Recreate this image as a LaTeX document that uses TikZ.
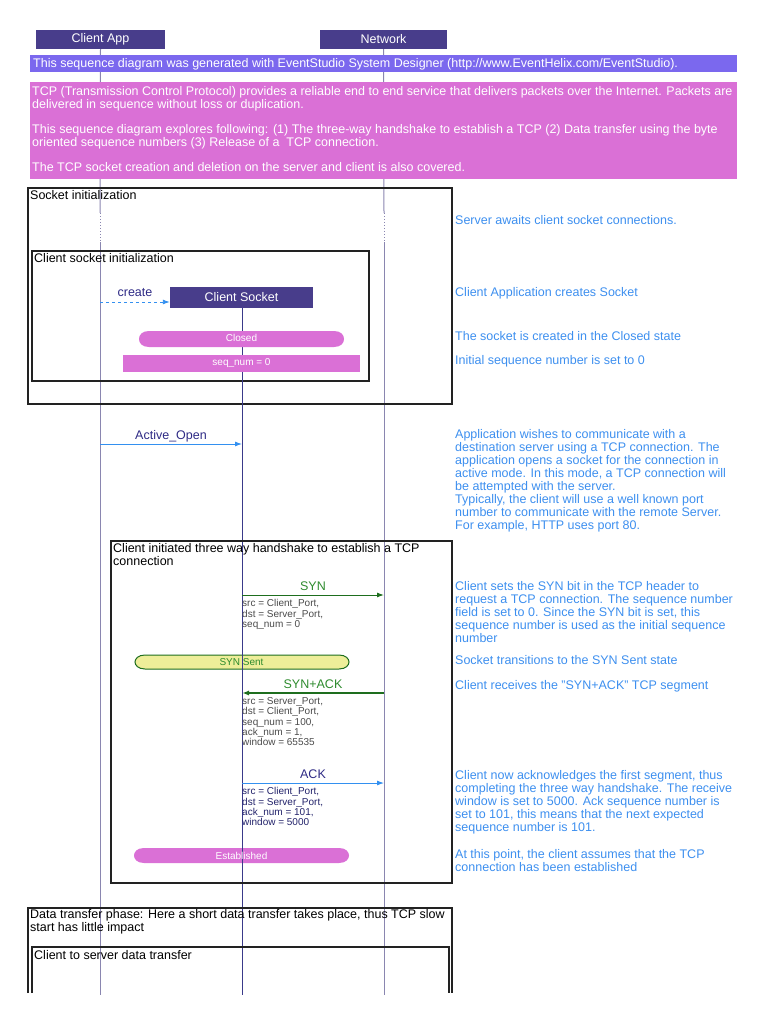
\documentclass[tikz,border=0pt]{standalone}
\usepackage{fontspec}
\setmainfont{Liberation Sans}
\usetikzlibrary{arrows.meta}
\definecolor{hdr}{HTML}{483D8B}
\definecolor{banner}{HTML}{7B68EE}
\definecolor{orch}{HTML}{DA70D6}
\definecolor{notec}{HTML}{3D8FEF}
\definecolor{life}{HTML}{8A86B0}
\definecolor{sockline}{HTML}{3A3A8A}
\definecolor{msgc}{HTML}{2E2A85}
\definecolor{bluea}{HTML}{3390F0}
\definecolor{greent}{HTML}{2E8B2E}
\definecolor{greena}{HTML}{1E6E1E}
\definecolor{yell}{HTML}{EEEE99}
\definecolor{frm}{HTML}{222222}
\definecolor{parg}{HTML}{4A4A4A}
\definecolor{parn}{HTML}{22226A}
\newcommand\fbig{\fontsize{12.5}{13}\selectfont}
\newcommand\fsmall{\fontsize{10}{10.3}\selectfont}
\tikzset{
 hdrbox/.style={fill=hdr, text=white, font=\fbig, minimum width=129pt, minimum height=19pt, inner sep=0pt},
 lifeline/.style={draw=life, line width=1pt},
 frame/.style={draw=frm, line width=1.1pt},
 frametitle/.style={anchor=north west, font=\fbig, text=black, inner sep=0pt, align=left},
 note/.style={anchor=north west, font=\fbig, text=notec, inner sep=0pt, align=left},
 bannertext/.style={anchor=north west, font=\fbig, text=white, inner sep=0pt, align=left},
 msglabel/.style={anchor=base, font=\fbig, text=msgc, inner sep=0pt},
 params/.style={anchor=north west, font=\fsmall, inner sep=0pt, align=left},
 bluemsg/.style={draw=bluea, line width=0.9pt, -{Latex[length=7pt,width=5pt]}},
 greenmsg/.style={draw=greena, line width=1pt, -{Latex[length=7pt,width=5pt]}},
 statetext/.style={font=\fsmall, text=white, inner sep=0pt},
}
\begin{document}
\begin{tikzpicture}[x=1pt,y=-1pt]
\useasboundingbox (0,0) rectangle (768,1024);
% headers
\node[hdrbox] (app) at (100.5,39.5) {Client App};
\node[hdrbox, minimum width=127pt] (net) at (383.5,39.5) {Network};
% lifeline coordinates
\coordinate (appDotA) at (100,213);
\coordinate (appDotB) at (100,242);
\coordinate (appEnd) at (100,995);
\coordinate (netDotA) at (384,213);
\coordinate (netDotB) at (384,242);
\coordinate (netEnd) at (384,995);
\draw[lifeline] (app.south) -- (appDotA);
\draw[lifeline, dotted] (appDotA) -- (appDotB);
\draw[lifeline] (appDotB) -- (appEnd);
\draw[lifeline] (net.south) -- (netDotA);
\draw[lifeline, dotted] (netDotA) -- (netDotB);
\draw[lifeline] (netDotB) -- (netEnd);
% banner
\fill[banner] (30,55) rectangle (737,72);
\node[bannertext] (bt) at (33,58.6) {This sequence diagram was generated with EventStudio System Designer (http://www.EventHelix.com/EventStudio).};
% pink description
\fill[orch] (30,82) rectangle (737,179);
\node[bannertext] (d1) at (32,86.4) {TCP (Transmission Control Protocol) provides a reliable end to end service that delivers packets over the Internet. Packets are\\delivered in sequence without loss or duplication.};
\node[bannertext] (d2) at (32,124.4) {This sequence diagram explores following: (1) The three-way handshake to establish a TCP (2) Data transfer using the byte\\oriented sequence numbers (3) Release of a\ \ TCP connection.};
\node[bannertext] (d3) at (32,162.4) {The TCP socket creation and deletion on the server and client is also covered.};
% Socket initialization frame
\draw[frame] (28,188) rectangle (452,404);
\node[frametitle] (f1) at (30,190.4) {Socket initialization};
\node[note] (n1) at (455,215.4) {Server awaits client socket connections.};
\draw[frame] (32,251) rectangle (369,381);
\node[frametitle] (f2) at (34,253.4) {Client socket initialization};
% Client socket
\node[hdrbox, minimum width=143pt, minimum height=21pt] (sock) at (241.5,297.5) {Client Socket};
\coordinate (createStart) at (100,302);
\draw[bluemsg, dashed] (createStart) -- (sock.west |- createStart);
\node[msglabel] (createL) at (135,296.5) {create};
\node[note] (n2) at (455,287.4) {Client Application creates Socket};
% states drawn under socket lifeline
\fill[yell] (145,655) -- (339,655) .. controls (346,655) and (349,659) .. (349,662) .. controls (349,665) and (346,669) .. (339,669) -- (145,669) .. controls (138,669) and (135,665) .. (135,662) .. controls (135,659) and (138,655) .. (145,655) -- cycle;
\draw[greena, line width=1pt] (145,655) -- (339,655) .. controls (346,655) and (349,659) .. (349,662) .. controls (349,665) and (346,669) .. (339,669) -- (145,669) .. controls (138,669) and (135,665) .. (135,662) .. controls (135,659) and (138,655) .. (145,655) -- cycle;
\fill[orch] (144,848) -- (339,848) .. controls (346,848) and (349,852) .. (349,855.5) .. controls (349,859) and (346,863) .. (339,863) -- (144,863) .. controls (137,863) and (134,859) .. (134,855.5) .. controls (134,852) and (137,848) .. (144,848) -- cycle;
% socket lifeline
\coordinate (sockEnd) at (242,995);
\draw[draw=sockline, line width=1pt] (sock.south -| sockEnd) -- (sockEnd);
\node[statetext, text=greent] (synsent) at (241.5,662) {SYN Sent};
\node[statetext] (estab) at (241.5,855.5) {Established};
% Closed and seq_num
\fill[orch] (149,331) -- (334,331) .. controls (341,331) and (344,335) .. (344,339) .. controls (344,343) and (341,347) .. (334,347) -- (149,347) .. controls (142,347) and (139,343) .. (139,339) .. controls (139,335) and (142,331) .. (149,331) -- cycle;
\node[statetext] (closed) at (241.5,338) {Closed};
\fill[orch] (123,355) rectangle (360,372);
\node[statetext] (seq) at (241.5,363) {seq\_num = 0};
\node[note] (n3) at (455,331.4) {The socket is created in the Closed state};
\node[note] (n4) at (455,355.4) {Initial sequence number is set to 0};
% Active open
\coordinate (ao1) at (100,444);
\coordinate (ao2) at (242,444);
\draw[bluemsg] (ao1) -- (ao2);
\node[msglabel] (aoL) at (171,439.5) {Active\_Open};
\node[note] (n5) at (455,429.4) {Application wishes to communicate with a\\destination server using a TCP connection. The\\application opens a socket for the connection in\\active mode. In this mode, a TCP connection will\\be attempted with the server.\\Typically, the client will use a well known port\\number to communicate with the remote Server.\\For example, HTTP uses port 80.};
% Handshake frame
\draw[frame] (111,541) rectangle (452,883);
\node[frametitle] (f3) at (113,543.4) {Client initiated three way handshake to establish a TCP\\connection};
% SYN
\coordinate (syn1) at (242,595);
\coordinate (syn2) at (384,595);
\draw[greenmsg] (syn1) -- (syn2);
\node[msglabel, text=greent] (synL) at (313,590.5) {SYN};
\node[params, text=parg] (synP) at (242,599.4) {src = Client\_Port,\\dst = Server\_Port,\\seq\_num = 0};
\node[note] (n6) at (455,581.4) {Client sets the SYN bit in the TCP header to\\request a TCP connection. The sequence number\\field is set to 0. Since the SYN bit is set, this\\sequence number is used as the initial sequence\\number};
\node[note] (n7) at (455,655.4) {Socket transitions to the SYN Sent state};
% SYN+ACK
\coordinate (sa1) at (384,693);
\coordinate (sa2) at (242,693);
\draw[greenmsg, line width=1.8pt] (sa1) -- (sa2);
\node[msglabel, text=greent] (saL) at (313,688.5) {SYN+ACK};
\node[params, text=parg] (saP) at (242,697.4) {src = Server\_Port,\\dst = Client\_Port,\\seq\_num = 100,\\ack\_num = 1,\\window = 65535};
\node[note] (n8) at (455,680.4) {Client receives the "SYN+ACK" TCP segment};
% ACK
\coordinate (ack1) at (242,783);
\coordinate (ack2) at (384,783);
\draw[bluemsg] (ack1) -- (ack2);
\node[msglabel] (ackL) at (313,778.5) {ACK};
\node[params, text=parn] (ackP) at (242,787.4) {src = Client\_Port,\\dst = Server\_Port,\\ack\_num = 101,\\window = 5000};
\node[note] (n9) at (455,770.4) {Client now acknowledges the first segment, thus\\completing the three way handshake. The receive\\window is set to 5000. Ack sequence number is\\set to 101, this means that the next expected\\sequence number is 101.};
\node[note] (n10) at (455,849.4) {At this point, the client assumes that the TCP\\connection has been established};
% Data transfer frames
\draw[frame] (28,993) -- (28,908) -- (452,908) -- (452,993);
\node[frametitle] (f4) at (30,909.4) {Data transfer phase: Here a short data transfer takes place, thus TCP slow\\start has little impact};
\draw[frame] (32,993) -- (32,947) -- (449,947) -- (449,993);
\node[frametitle] (f5) at (34,950.4) {Client to server data transfer};
\end{tikzpicture}
\end{document}
